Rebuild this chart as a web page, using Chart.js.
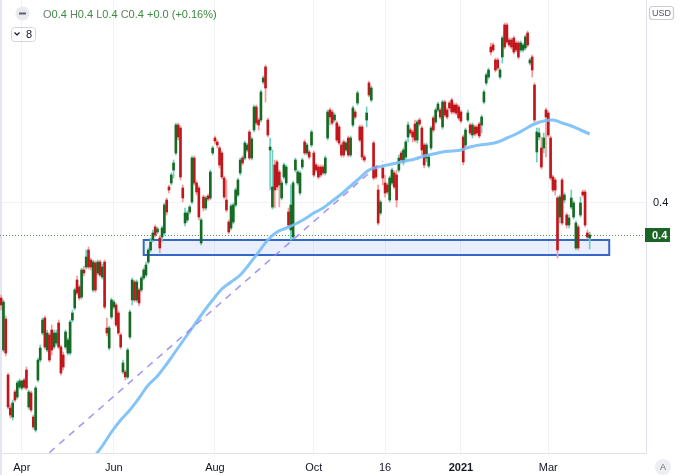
<!DOCTYPE html>
<html>
<head>
<meta charset="utf-8">
<script src="https://cdn.jsdelivr.net/npm/chart.js@4.4.1/dist/chart.umd.min.js"></script>
<style>
  html, body { margin: 0; padding: 0; background: #fff; }
  #wrap { position: relative; width: 680px; height: 475px; }
</style>
</head>
<body>
<div id="wrap"><canvas id="priceChart"></canvas></div>
<script>
// daily bars, late Mar 2020 -> late Mar 2021 (one entry per bar)
var opens = [
  0.3525, 0.3265, 0.342, 0.314, 0.2975, 0.293, 0.3055, 0.303, 0.308, 0.3075,
  0.3115, 0.3165, 0.298, 0.305, 0.293, 0.2865, 0.3115, 0.3215, 0.335, 0.3425,
  0.3265, 0.334, 0.3365, 0.328, 0.330, 0.340, 0.328, 0.324, 0.328, 0.325,
  0.325, 0.3415, 0.3475, 0.3615, 0.358, 0.353, 0.3665, 0.368, 0.3765, 0.3715,
  0.3565, 0.370, 0.365, 0.3705, 0.363, 0.3705, 0.3375, 0.3275, 0.343, 0.348,
  0.349, 0.345, 0.334, 0.3155, 0.3155, 0.313, 0.333, 0.3515, 0.3605, 0.3515,
  0.3565, 0.3565, 0.3625, 0.364, 0.3705, 0.3765, 0.3815, 0.388, 0.3855, 0.3825,
  0.383, 0.385, 0.4015, 0.408, 0.410, 0.4165, 0.425, 0.439, 0.4375, 0.4075,
  0.390, 0.3915, 0.3955, 0.4005, 0.4225, 0.410, 0.4075, 0.380, 0.403, 0.3975,
  0.4035, 0.4025, 0.425, 0.4325, 0.4305, 0.4275, 0.425, 0.4125, 0.4015, 0.3905,
  0.3875, 0.3905, 0.399, 0.404, 0.415, 0.4225, 0.4225, 0.4265, 0.4355, 0.4225,
  0.4365, 0.448, 0.4415, 0.4415, 0.4605, 0.468, 0.4415, 0.4265, 0.398, 0.419,
  0.4205, 0.4155, 0.4025, 0.413, 0.410, 0.3955, 0.3865, 0.383, 0.4165, 0.410,
  0.405, 0.418, 0.4305, 0.425, 0.4255, 0.429, 0.425, 0.419, 0.418, 0.418,
  0.418, 0.415, 0.4325, 0.4465, 0.4455, 0.4415, 0.440, 0.438, 0.429, 0.4305,
  0.4265, 0.4325, 0.424, 0.439, 0.4455, 0.450, 0.438, 0.438, 0.423, 0.4415,
  0.460, 0.4515, 0.430, 0.4175, 0.4065, 0.395, 0.4175, 0.410, 0.409, 0.4015,
  0.410, 0.415, 0.414, 0.4165, 0.425, 0.4205, 0.423, 0.433, 0.4365, 0.4355,
  0.4395, 0.4315, 0.4415, 0.4375, 0.429, 0.4225, 0.4185, 0.4275, 0.4425, 0.4405,
  0.4465, 0.4465, 0.438, 0.4505, 0.4465, 0.450, 0.4515, 0.449, 0.449, 0.448,
  0.4455, 0.433, 0.429, 0.4415, 0.439, 0.434, 0.438, 0.438, 0.4395, 0.439,
  0.4505, 0.460, 0.463, 0.478, 0.479, 0.4715, 0.4715, 0.463, 0.473, 0.489,
  0.489, 0.4815, 0.4815, 0.4825, 0.480, 0.480, 0.4765, 0.4765, 0.4775, 0.485,
  0.470, 0.473, 0.459, 0.4255, 0.433, 0.4275, 0.4275, 0.4465, 0.445, 0.4325,
  0.413, 0.4115, 0.4025, 0.393, 0.4115, 0.4015, 0.394, 0.389, 0.398, 0.393,
  0.3775, 0.388, 0.394, 0.4055, 0.4055, 0.385, 0.3825
];
var highs = [
  0.354, 0.3515, 0.3435, 0.315, 0.299, 0.3015, 0.3065, 0.311, 0.312, 0.3115,
  0.3125, 0.318, 0.3065, 0.306, 0.294, 0.3085, 0.3225, 0.329, 0.3425, 0.3435,
  0.3365, 0.335, 0.339, 0.3365, 0.3365, 0.3415, 0.329, 0.3255, 0.3365, 0.3325,
  0.3415, 0.3465, 0.3575, 0.3635, 0.359, 0.3675, 0.3685, 0.3765, 0.378, 0.3725,
  0.3715, 0.371, 0.3715, 0.3715, 0.3695, 0.3715, 0.3425, 0.3385, 0.3525, 0.3515,
  0.350, 0.346, 0.335, 0.3215, 0.3165, 0.3275, 0.3465, 0.3625, 0.3615, 0.3615,
  0.3575, 0.3635, 0.3675, 0.3705, 0.3775, 0.3825, 0.3865, 0.389, 0.388, 0.384,
  0.3885, 0.400, 0.4025, 0.409, 0.415, 0.4215, 0.440, 0.440, 0.4385, 0.409,
  0.3975, 0.396, 0.399, 0.4235, 0.4235, 0.411, 0.4085, 0.3925, 0.404, 0.4035,
  0.4045, 0.4165, 0.4285, 0.4335, 0.4315, 0.4285, 0.426, 0.4135, 0.4115, 0.3915,
  0.3995, 0.400, 0.4075, 0.4125, 0.4225, 0.4235, 0.431, 0.430, 0.4365, 0.433,
  0.449, 0.449, 0.4425, 0.4565, 0.4635, 0.469, 0.4425, 0.4325, 0.4265, 0.4215,
  0.4215, 0.4165, 0.4115, 0.420, 0.419, 0.3975, 0.409, 0.411, 0.4225, 0.4165,
  0.416, 0.4225, 0.4315, 0.430, 0.4265, 0.4365, 0.426, 0.420, 0.419, 0.419,
  0.419, 0.4235, 0.4465, 0.4475, 0.4465, 0.445, 0.441, 0.439, 0.430, 0.4315,
  0.431, 0.4335, 0.4335, 0.4485, 0.4465, 0.456, 0.439, 0.439, 0.424, 0.448,
  0.461, 0.4585, 0.431, 0.4185, 0.409, 0.4015, 0.419, 0.414, 0.410, 0.4135,
  0.4175, 0.416, 0.4165, 0.424, 0.426, 0.4275, 0.4315, 0.4405, 0.4375, 0.4365,
  0.4415, 0.4415, 0.4425, 0.4385, 0.430, 0.430, 0.424, 0.4385, 0.4435, 0.4475,
  0.4505, 0.4475, 0.4515, 0.4515, 0.4475, 0.451, 0.4525, 0.450, 0.450, 0.449,
  0.4465, 0.434, 0.4375, 0.4465, 0.440, 0.440, 0.439, 0.439, 0.4405, 0.444,
  0.4565, 0.465, 0.4675, 0.480, 0.480, 0.4725, 0.4725, 0.4675, 0.4835, 0.490,
  0.490, 0.4825, 0.4825, 0.4835, 0.481, 0.481, 0.481, 0.480, 0.484, 0.486,
  0.4725, 0.474, 0.460, 0.4375, 0.4375, 0.433, 0.435, 0.4475, 0.446, 0.4335,
  0.414, 0.4125, 0.4035, 0.404, 0.4125, 0.405, 0.395, 0.394, 0.4065, 0.401,
  0.391, 0.389, 0.403, 0.4065, 0.4065, 0.3865, 0.3855
];
var lows = [
  0.3465, 0.3255, 0.3235, 0.297, 0.2925, 0.2915, 0.3005, 0.302, 0.307, 0.3065,
  0.307, 0.3065, 0.297, 0.2955, 0.287, 0.2855, 0.3105, 0.3205, 0.334, 0.327,
  0.3255, 0.3205, 0.324, 0.327, 0.329, 0.327, 0.314, 0.3165, 0.327, 0.324,
  0.324, 0.3405, 0.3465, 0.354, 0.3515, 0.352, 0.3635, 0.367, 0.367, 0.3665,
  0.3555, 0.3555, 0.364, 0.363, 0.362, 0.347, 0.3335, 0.3265, 0.342, 0.347,
  0.338, 0.334, 0.327, 0.3145, 0.3115, 0.312, 0.332, 0.349, 0.3505, 0.3505,
  0.3485, 0.3555, 0.3615, 0.363, 0.3695, 0.3755, 0.3805, 0.383, 0.3845, 0.375,
  0.3805, 0.384, 0.394, 0.405, 0.409, 0.4125, 0.424, 0.4315, 0.4115, 0.4005,
  0.3885, 0.3905, 0.3945, 0.3995, 0.409, 0.404, 0.3915, 0.379, 0.396, 0.3965,
  0.401, 0.4015, 0.424, 0.4295, 0.4275, 0.4175, 0.412, 0.402, 0.3955, 0.3845,
  0.3865, 0.3895, 0.398, 0.403, 0.414, 0.419, 0.4215, 0.4255, 0.4215, 0.4215,
  0.4355, 0.439, 0.4365, 0.4405, 0.4595, 0.4505, 0.433, 0.4065, 0.397, 0.3975,
  0.4065, 0.398, 0.4015, 0.412, 0.409, 0.3875, 0.3815, 0.382, 0.4155, 0.409,
  0.404, 0.417, 0.424, 0.424, 0.422, 0.428, 0.413, 0.4155, 0.412, 0.413,
  0.414, 0.414, 0.4315, 0.439, 0.439, 0.4405, 0.4305, 0.429, 0.423, 0.423,
  0.4255, 0.423, 0.423, 0.438, 0.442, 0.449, 0.4305, 0.4215, 0.4205, 0.438,
  0.453, 0.4505, 0.4115, 0.412, 0.389, 0.394, 0.409, 0.403, 0.4045, 0.4005,
  0.409, 0.407, 0.398, 0.4155, 0.4205, 0.419, 0.4215, 0.4305, 0.434, 0.4305,
  0.4305, 0.430, 0.4385, 0.424, 0.4175, 0.4205, 0.4175, 0.4265, 0.4355, 0.4395,
  0.4455, 0.442, 0.437, 0.443, 0.442, 0.4465, 0.4445, 0.4445, 0.444, 0.4415,
  0.440, 0.419, 0.428, 0.4405, 0.434, 0.4325, 0.4335, 0.434, 0.4325, 0.435,
  0.4495, 0.459, 0.462, 0.474, 0.4755, 0.4655, 0.4665, 0.462, 0.470, 0.477,
  0.4795, 0.478, 0.477, 0.4745, 0.4755, 0.472, 0.4755, 0.4755, 0.4765, 0.478,
  0.469, 0.463, 0.4405, 0.4205, 0.4315, 0.417, 0.425, 0.423, 0.433, 0.4115,
  0.4055, 0.404, 0.3725, 0.390, 0.389, 0.400, 0.3875, 0.3875, 0.397, 0.392,
  0.3765, 0.3765, 0.393, 0.403, 0.388, 0.382, 0.377
];
var closes = [
  0.349, 0.3505, 0.325, 0.298, 0.294, 0.300, 0.3015, 0.310, 0.311, 0.311,
  0.308, 0.3075, 0.3055, 0.2965, 0.288, 0.3075, 0.3215, 0.3275, 0.3415, 0.328,
  0.335, 0.3215, 0.3265, 0.335, 0.335, 0.328, 0.315, 0.318, 0.3355, 0.3315,
  0.3405, 0.345, 0.3565, 0.355, 0.3525, 0.3665, 0.365, 0.373, 0.368, 0.368,
  0.3705, 0.3565, 0.3705, 0.364, 0.368, 0.348, 0.335, 0.3375, 0.3515, 0.3505,
  0.339, 0.335, 0.328, 0.320, 0.313, 0.3265, 0.3455, 0.3615, 0.3515, 0.3605,
  0.350, 0.3625, 0.3665, 0.369, 0.3765, 0.3805, 0.385, 0.384, 0.387, 0.3775,
  0.3875, 0.399, 0.3955, 0.4065, 0.414, 0.420, 0.439, 0.433, 0.413, 0.4025,
  0.395, 0.395, 0.398, 0.4225, 0.410, 0.4055, 0.393, 0.3915, 0.3975, 0.4025,
  0.402, 0.4155, 0.4275, 0.431, 0.429, 0.419, 0.413, 0.403, 0.3965, 0.3855,
  0.3985, 0.399, 0.4065, 0.4115, 0.4215, 0.420, 0.430, 0.429, 0.4225, 0.432,
  0.448, 0.440, 0.439, 0.4555, 0.4625, 0.4575, 0.434, 0.428, 0.408, 0.4065,
  0.408, 0.409, 0.410, 0.419, 0.418, 0.389, 0.399, 0.410, 0.4215, 0.4155,
  0.415, 0.4215, 0.425, 0.429, 0.423, 0.4355, 0.414, 0.4165, 0.413, 0.414,
  0.415, 0.4225, 0.4455, 0.443, 0.440, 0.444, 0.4315, 0.430, 0.424, 0.424,
  0.430, 0.424, 0.4325, 0.4475, 0.443, 0.455, 0.4315, 0.423, 0.4215, 0.445,
  0.454, 0.4575, 0.4125, 0.413, 0.390, 0.4005, 0.4125, 0.405, 0.4055, 0.4125,
  0.4165, 0.408, 0.4015, 0.4225, 0.4215, 0.4265, 0.4305, 0.439, 0.435, 0.433,
  0.4315, 0.4405, 0.4395, 0.4265, 0.419, 0.429, 0.423, 0.4375, 0.4365, 0.4465,
  0.4495, 0.443, 0.4505, 0.444, 0.443, 0.4475, 0.4455, 0.4455, 0.445, 0.4425,
  0.441, 0.4205, 0.4365, 0.445, 0.435, 0.439, 0.4345, 0.435, 0.4335, 0.443,
  0.4555, 0.464, 0.4665, 0.4755, 0.4765, 0.4665, 0.4675, 0.4665, 0.4825, 0.478,
  0.4805, 0.479, 0.478, 0.4755, 0.4765, 0.473, 0.480, 0.479, 0.483, 0.479,
  0.4715, 0.4665, 0.4415, 0.4355, 0.435, 0.418, 0.4325, 0.443, 0.434, 0.4125,
  0.4065, 0.4065, 0.3765, 0.403, 0.390, 0.404, 0.389, 0.3925, 0.4025, 0.400,
  0.390, 0.3775, 0.400, 0.404, 0.389, 0.383, 0.384
];

// moving average
var maIdx = [40, 44, 48, 52, 56, 60, 64, 68, 72, 76, 80, 84, 88, 92, 96, 100,
  104, 108, 112, 116, 120, 124, 128, 132, 136, 140, 144, 148, 152, 156, 160,
  164, 168, 172, 176, 180, 184, 188, 192, 196, 200, 204, 208, 212, 216, 220,
  224, 228, 232, 236, 240, 244, 248, 252, 256];
var maVals = [0.2725, 0.2785, 0.2855, 0.2915, 0.2965, 0.3025, 0.309, 0.3135,
  0.3195, 0.326, 0.3325, 0.339, 0.3455, 0.3515, 0.357, 0.3605, 0.364, 0.3695,
  0.3755, 0.3815, 0.3855, 0.3875, 0.3895, 0.392, 0.395, 0.3975, 0.401, 0.4045,
  0.4085, 0.4125, 0.4165, 0.418, 0.419, 0.420, 0.421, 0.422, 0.4235, 0.4245,
  0.4255, 0.426, 0.4265, 0.428, 0.429, 0.4295, 0.4305, 0.4325, 0.4345, 0.437,
  0.4395, 0.441, 0.4415, 0.440, 0.4385, 0.4365, 0.4345];

// dashed trend line (two anchors)
var trendIdx = [21, 166];
var trendVals = [0.2752, 0.4209];

// support box
var zoneIdx = [62, 264.5];
var zoneVals = [0.374, 0.3815];

var xTickIdx = [9, 49, 93, 136, 167, 200, 238];
var xTickLabels = ['Apr', 'Jun', 'Aug', 'Oct', '16', '2021', 'Mar'];
var yTicks = [0.4];

var FONT = "'Liberation Sans', Arial, sans-serif";
var UP = '#166a21', DOWN = '#c3161c';
var UP_WICK = '#6fcfc2', DOWN_WICK = '#f39a9a';

var isUp = closes.map(function (c, i) { return c >= opens[i]; });

var overlay = {
    id: 'overlay',
    beforeDatasetsDraw: function (chart) {
        var ctx = chart.ctx, xs = chart.scales.x, ys = chart.scales.y, a = chart.chartArea;
        ctx.save();
        // left page edge
        ctx.fillStyle = '#e4e7ef';
        ctx.fillRect(0, 0, 2, chart.height);
        // zone
        var x0 = xs.getPixelForValue(zoneIdx[0]), x1 = xs.getPixelForValue(zoneIdx[1]);
        var y0 = ys.getPixelForValue(zoneVals[1]), y1 = ys.getPixelForValue(zoneVals[0]);
        ctx.fillStyle = 'rgba(41, 98, 255, 0.1)';
        ctx.fillRect(x0, y0, x1 - x0, y1 - y0);
        ctx.strokeStyle = '#3567c9';
        ctx.lineWidth = 2;
        ctx.strokeRect(x0, y0, x1 - x0, y1 - y0);
        // last price line
        var py = Math.round(ys.getPixelForValue(closes[closes.length - 1])) + 0.5;
        ctx.strokeStyle = '#5b8f5f';
        ctx.lineWidth = 1;
        ctx.setLineDash([1, 2]);
        ctx.beginPath();
        ctx.moveTo(a.left, py);
        ctx.lineTo(a.right, py);
        ctx.stroke();
        ctx.restore();
    },
    afterDraw: function (chart) {
        var ctx = chart.ctx, ys = chart.scales.y, a = chart.chartArea;
        ctx.save();
        // last price label
        var last = closes[closes.length - 1];
        var py = Math.round(ys.getPixelForValue(last));
        ctx.fillStyle = '#1a6524';
        ctx.fillRect(a.right - 1, py - 7, 25, 14);
        ctx.fillStyle = '#ffffff';
        ctx.font = 'bold 11px ' + FONT;
        ctx.textBaseline = 'middle';
        ctx.textAlign = 'left';
        ctx.fillText(last.toFixed(1), a.right + 6, py + 0.5);

        // legend row
        ctx.fillStyle = '#e9eaee';
        ctx.beginPath();
        ctx.arc(22.5, 13.5, 7, 0, Math.PI * 2);
        ctx.fill();
        ctx.strokeStyle = '#5d606b';
        ctx.lineWidth = 2;
        ctx.beginPath();
        ctx.moveTo(19, 13.5);
        ctx.lineTo(26, 13.5);
        ctx.stroke();

        var parts = [
            ['O', '#6b7f6b'], [last.toFixed(1) + ' ', '#3d8b43'],
            ['H', '#6b7f6b'], [highs[highs.length - 1].toFixed(1) + ' ', '#3d8b43'],
            ['L', '#6b7f6b'], [lows[lows.length - 1].toFixed(1) + ' ', '#3d8b43'],
            ['C', '#6b7f6b'], [last.toFixed(1) + ' ', '#3d8b43'],
            ['+0.0 (+0.16%)', '#3d8b43']
        ];
        ctx.font = '11px ' + FONT;
        ctx.textBaseline = 'middle';
        var tx = 43;
        parts.forEach(function (p) {
            ctx.fillStyle = p[1];
            ctx.fillText(p[0], tx, 15);
            tx += ctx.measureText(p[0]).width;
        });

        // interval box
        ctx.strokeStyle = '#d1d4dc';
        ctx.lineWidth = 1;
        ctx.beginPath();
        ctx.roundRect(11.5, 27.5, 24, 14, 3);
        ctx.stroke();
        ctx.strokeStyle = '#131722';
        ctx.lineWidth = 1.2;
        ctx.beginPath();
        ctx.moveTo(14.5, 32.5);
        ctx.lineTo(17, 35);
        ctx.lineTo(19.5, 32.5);
        ctx.stroke();
        ctx.fillStyle = '#131722';
        ctx.font = '11px ' + FONT;
        ctx.fillText('8', 26, 34.5);

        // currency badge
        ctx.strokeStyle = '#c9ccd4';
        ctx.beginPath();
        ctx.roundRect(649.5, 6.5, 24, 13, 3);
        ctx.stroke();
        ctx.fillStyle = '#50535e';
        ctx.font = '9px ' + FONT;
        ctx.textAlign = 'center';
        ctx.fillText('USD', 661.5, 13.5);

        // auto-scale button
        ctx.fillStyle = '#eceef2';
        ctx.beginPath();
        ctx.arc(663, 467, 8, 0, Math.PI * 2);
        ctx.fill();
        ctx.fillStyle = '#6a6d78';
        ctx.font = '9px ' + FONT;
        ctx.fillText('A', 663, 467.5);
        ctx.restore();
    }
};

var priceChart = new Chart(document.getElementById('priceChart'), {
    type: 'bar',
    data: {
        datasets: [{
            label: 'wicks',
            data: lows.map(function (l, i) { return { x: i, y: [l, highs[i]] }; }),
            backgroundColor: isUp.map(function (u) { return u ? UP_WICK : DOWN_WICK; }),
            barThickness: 1,
            grouped: false,
            order: 3
        }, {
            label: 'bodies',
            data: opens.map(function (o, i) { return { x: i, y: [o, closes[i]] }; }),
            backgroundColor: isUp.map(function (u) { return u ? UP : DOWN; }),
            barThickness: 2,
            minBarLength: 1,
            grouped: false,
            order: 2
        }, {
            type: 'line',
            label: 'MA',
            data: maIdx.map(function (x, k) { return { x: x, y: maVals[k] }; }),
            borderColor: 'rgba(120, 190, 245, 0.9)',
            borderWidth: 3,
            pointRadius: 0,
            tension: 0.4,
            order: 1
        }, {
            type: 'line',
            label: 'trend',
            data: trendIdx.map(function (x, k) { return { x: x, y: trendVals[k] }; }),
            borderColor: 'rgba(140, 120, 245, 0.8)',
            borderWidth: 1.5,
            borderDash: [7, 6],
            pointRadius: 0,
            order: 0
        }]
    },
    options: {
        responsive: true,
        maintainAspectRatio: false,
        devicePixelRatio: 1,
        animation: false,
        layout: { padding: 0 },
        plugins: { legend: { display: false }, tooltip: { enabled: false } },
        scales: {
            x: {
                type: 'linear',
                min: -0.5,
                max: 280.5,
                offset: false,
                afterBuildTicks: function (scale) {
                    scale.ticks = xTickIdx.map(function (v) { return { value: v }; });
                },
                afterFit: function (scale) {
                    scale.height = 22;
                    scale.paddingLeft = 0;
                    scale.paddingRight = 0;
                },
                grid: { color: '#f0f2f6', drawTicks: false, offset: false },
                border: { color: '#e0e3eb' },
                ticks: {
                    autoSkip: false,
                    maxRotation: 0,
                    padding: 8,
                    color: '#131722',
                    font: function (c) {
                        var bold = c.tick && c.tick.value === 200;
                        return { family: FONT, size: 11, weight: bold ? 'bold' : 'normal' };
                    },
                    callback: function (v) {
                        var k = xTickIdx.indexOf(v);
                        return k >= 0 ? xTickLabels[k] : '';
                    }
                }
            },
            y: {
                position: 'right',
                min: 0.275,
                max: 0.5015,
                afterBuildTicks: function (scale) {
                    scale.ticks = yTicks.map(function (v) { return { value: v }; });
                },
                afterFit: function (scale) {
                    scale.width = 34;
                    scale.paddingTop = 0;
                    scale.paddingBottom = 0;
                },
                grid: { color: '#f0f2f6', drawTicks: false },
                border: { color: '#e0e3eb' },
                ticks: {
                    padding: 7,
                    color: '#131722',
                    font: { family: FONT, size: 11 },
                    callback: function (v) { return v.toFixed(1); }
                }
            }
        }
    },
    plugins: [overlay]
});
</script>
</body>
</html>
